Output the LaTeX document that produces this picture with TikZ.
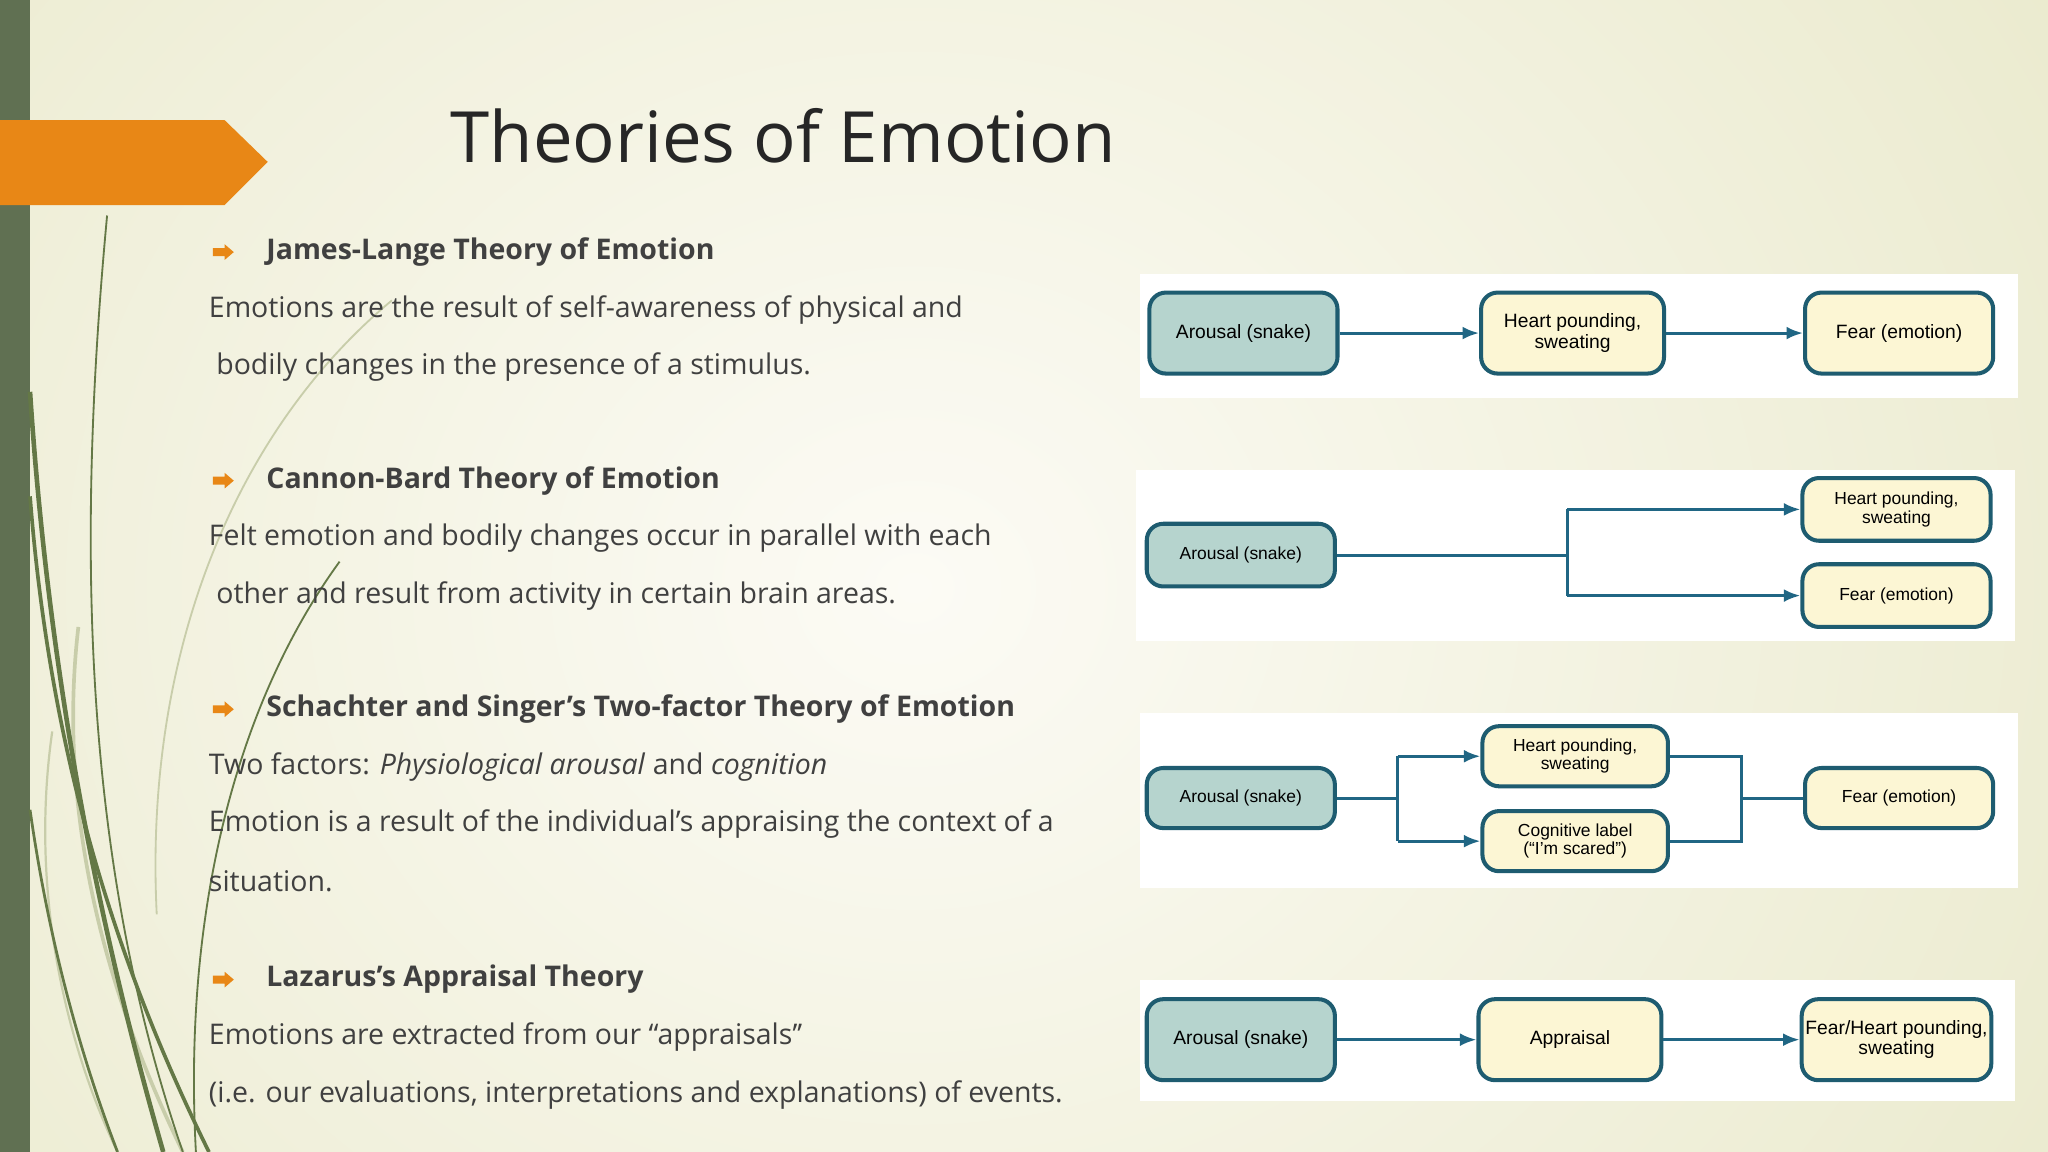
\documentclass[tikz,border=0pt]{standalone}
\usepackage{fontspec}
\setmainfont{Open Sans}
\newfontfamily\boxfont{Liberation Sans}
\usetikzlibrary{arrows.meta}
\definecolor{bgA}{RGB}{252,251,245}
\definecolor{bgB}{RGB}{230,230,196}
\definecolor{barG}{RGB}{96,112,82}
\definecolor{curG}{RGB}{100,120,70}
\definecolor{curL}{RGB}{200,205,170}
\definecolor{orangeA}{RGB}{232,135,22}
\definecolor{txt}{RGB}{64,64,64}
\definecolor{teal}{RGB}{182,212,206}
\definecolor{cream}{RGB}{252,246,212}
\definecolor{bord}{RGB}{30,92,112}
\definecolor{arr}{RGB}{32,102,132}
\tikzset{
 boxT/.style={draw=bord,line width=2.2pt,rounded corners=9pt,fill=teal,align=center,font=\boxfont\fontsize{9.5}{10}\selectfont},
 boxC/.style={draw=bord,line width=2.2pt,rounded corners=9pt,fill=cream,align=center,font=\boxfont\fontsize{9.5}{10}\selectfont},
 big/.style={font=\boxfont\fontsize{10.5}{11}\selectfont},
 con/.style={arr,line width=1.6pt},
 cona/.style={con,-{Latex[length=9pt,width=7pt]}},
 head/.style={anchor=west,font=\fontsize{15.5}{18}\selectfont\bfseries,text=txt},
 body/.style={anchor=west,font=\fontsize{15.5}{18}\selectfont,text=txt},
}
\begin{document}
\begin{tikzpicture}[x=0.025cm,y=-0.025cm]
\useasboundingbox (0,0) rectangle (1568,882);
\shade[shading=radial,inner color=bgA,outer color=bgB] (-600,-700) rectangle (2000,1600);
\fill[barG] (0,0) rectangle (23,882);
% decorative curves
\draw[curL,line width=1.2pt] (40,560) .. controls (20,700) and (60,820) .. (90,882);
\draw[curL,line width=2pt] (60,480) .. controls (40,650) and (100,800) .. (140,882);
\draw[curL,line width=1pt] (300,230) .. controls (180,330) and (110,500) .. (120,700);
\draw[curG,line width=1pt] (82,165) .. controls (60,400) and (60,650) .. (140,882);
\draw[curG,line width=2pt] (23,380) .. controls (40,600) and (100,760) .. (160,882);
\draw[curG,line width=2.5pt] (23,300) .. controls (40,560) and (90,760) .. (125,882);
\draw[curG,line width=1pt] (260,430) .. controls (180,540) and (140,700) .. (150,882);
\draw[curG,line width=1.5pt] (23,620) .. controls (40,740) and (70,830) .. (90,882);
% orange arrow
\fill[orangeA] (0,92) -- (172,92) -- (205,124) -- (172,157) -- (0,157) -- cycle;
\node[anchor=west,font=\fontsize{38.5}{42}\selectfont,text=black!85] (title) at (340,104) {Theories of Emotion};
% bullets
\foreach \y in {193,368,543,750}{
 \fill[orangeA] (163,\y-3) -- (172,\y-3) -- (172,\y-6) -- (179,\y) -- (172,\y+6) -- (172,\y+3) -- (163,\y+3) -- cycle;}
\node[head] (h1) at (199,193) {James-Lange Theory of Emotion};
\node[body] (t1a) at (155,237) {Emotions are the result of self-awareness of physical and};
\node[body] (t1b) at (155,281) {\ bodily changes in the presence of a stimulus.};
\node[head] (h2) at (199,368) {Cannon-Bard Theory of Emotion};
\node[body] (t2a) at (155,412) {Felt emotion and bodily changes occur in parallel with each};
\node[body] (t2b) at (155,456) {\ other and result from activity in certain brain areas.};
\node[head] (h3) at (199,543) {Schachter and Singer’s Two-factor Theory of Emotion};
\node[body] (t3a) at (155,587) {Two factors: \textit{Physiological arousal} and \textit{cognition}};
\node[body] (t3b) at (155,631) {Emotion is a result of the individual’s appraising the context of a};
\node[body] (t3c) at (155,675) {situation.};
\node[head] (h4) at (199,750) {Lazarus’s Appraisal Theory};
\node[body] (t4a) at (155,794) {Emotions are extracted from our “appraisals’’};
\node[body] (t4b) at (155,838) {(i.e. our evaluations, interpretations and explanations) of events.};
% panels
\fill[white] (873,210) rectangle (1545,305);
\fill[white] (870,360) rectangle (1543,491);
\fill[white] (873,546) rectangle (1545,680);
\fill[white] (873,750) rectangle (1543,843);
% diagram 1
\node[boxT,big,minimum width=3.6cm,minimum height=1.55cm] (a1) at (952,255) {Arousal (snake)};
\node[boxC,big,minimum width=3.5cm,minimum height=1.55cm] (m1) at (1204,255) {Heart pounding,\\sweating};
\node[boxC,big,minimum width=3.6cm,minimum height=1.55cm] (f1) at (1454,255) {Fear (emotion)};
\draw[cona] (a1) -- (m1);
\draw[cona] (m1) -- (f1);
% diagram 2
\node[boxT,minimum width=3.6cm,minimum height=1.2cm] (a2) at (950,425) {Arousal (snake)};
\node[boxC,minimum width=3.6cm,minimum height=1.2cm] (m2) at (1452,390) {Heart pounding,\\sweating};
\node[boxC,minimum width=3.6cm,minimum height=1.2cm] (f2) at (1452,456) {Fear (emotion)};
\coordinate (s2) at (1200,425);
\draw[con] (a2) -- (s2);
\draw[con] (s2 |- m2) -- (s2 |- f2);
\draw[cona] (s2 |- m2) -- (m2);
\draw[cona] (s2 |- f2) -- (f2);
% diagram 3
\node[boxT,minimum width=3.6cm,minimum height=1.15cm] (a3) at (950,611) {Arousal (snake)};
\node[boxC,minimum width=3.55cm,minimum height=1.15cm] (m3) at (1206,579) {Heart pounding,\\sweating};
\node[boxC,minimum width=3.55cm,minimum height=1.15cm] (c3) at (1206,644) {Cognitive label\\(“I’m scared”)};
\node[boxC,minimum width=3.6cm,minimum height=1.15cm] (f3) at (1454,611) {Fear (emotion)};
\coordinate (s3) at (1070,611);
\coordinate (j3) at (1333,611);
\draw[con] (a3) -- (s3);
\draw[con] (s3 |- m3) -- (s3 |- c3);
\draw[cona] (s3 |- m3) -- (m3);
\draw[cona] (s3 |- c3) -- (c3);
\draw[con] (m3) -- (j3 |- m3) -- (j3 |- c3) -- (c3);
\draw[con] (j3) -- (f3);
% diagram 4
\node[boxT,big,minimum width=3.6cm,minimum height=1.55cm] (a4) at (950,796) {Arousal (snake)};
\node[boxC,big,minimum width=3.5cm,minimum height=1.55cm] (m4) at (1202,796) {Appraisal};
\node[boxC,big,minimum width=3.6cm,minimum height=1.55cm,inner sep=2pt] (f4) at (1452,796) {Fear/Heart pounding,\\sweating};
\draw[cona] (a4) -- (m4);
\draw[cona] (m4) -- (f4);
\end{tikzpicture}
\end{document}
